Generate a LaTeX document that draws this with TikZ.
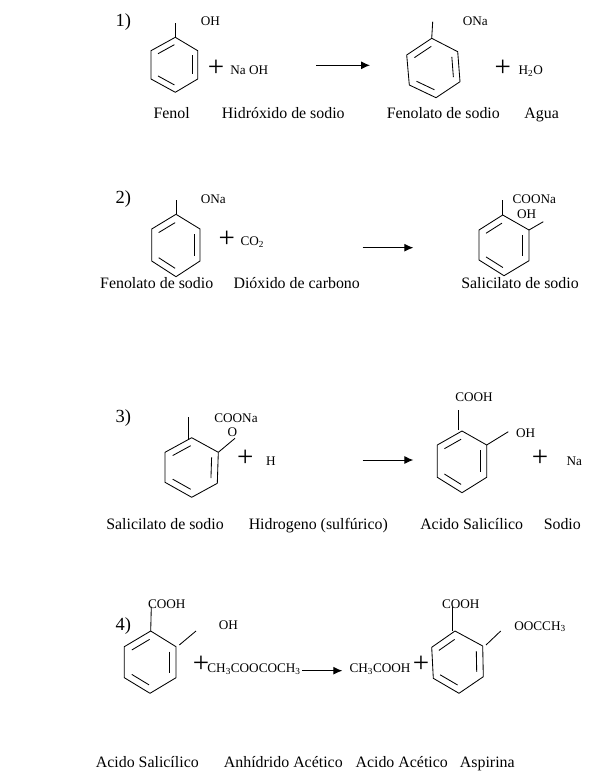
\documentclass[tikz,border=0pt]{standalone}
\usepackage{fontspec}
\setmainfont{Liberation Serif}
\usetikzlibrary{calc,arrows.meta}

\tikzset{
    bond/.style={line width=0.85pt,black},
    reaction/.style={line width=0.9pt,-{Latex[length=9pt,width=8pt]}},
    formula/.style={inner sep=0pt,anchor=base,font=\fontsize{13.2}{15}\selectfont},
    caption/.style={inner sep=0pt,anchor=base,font=\fontsize{15.9}{18}\selectfont},
    stepnum/.style={inner sep=0pt,anchor=base,font=\fontsize{18.5}{20}\selectfont},
    plussign/.style={inner sep=0pt,font=\fontsize{29}{31}\selectfont}
}

% ring from its six corners, clockwise from the top
\newcommand{\ring}[7]{
    \coordinate (#1-1) at (#2);
    \coordinate (#1-2) at (#3);
    \coordinate (#1-3) at (#4);
    \coordinate (#1-4) at (#5);
    \coordinate (#1-5) at (#6);
    \coordinate (#1-6) at (#7);
    \coordinate (#1-c) at ($(#1-1)!.5!(#1-4)$);
    \draw [bond,line join=round] (#1-1)--(#1-2)--(#1-3)--(#1-4)--(#1-5)--(#1-6)--cycle;
    \draw [bond] ($($(#1-2)!.05!(#1-3)$)!.25!(#1-c)$)--($($(#1-2)!.95!(#1-3)$)!.25!(#1-c)$);
    \draw [bond] ($($(#1-4)!.05!(#1-5)$)!.25!(#1-c)$)--($($(#1-4)!.95!(#1-5)$)!.25!(#1-c)$);
    \draw [bond] ($($(#1-6)!.05!(#1-1)$)!.25!(#1-c)$)--($($(#1-6)!.95!(#1-1)$)!.25!(#1-c)$);
}

\begin{document}
\begin{tikzpicture}[x=1pt,y=-1pt]
    \useasboundingbox (0,0) rectangle (605,775);

    % reaction 1
    \node [stepnum] (num1) at (123.3,26.7) {1)};
    \ring{fenol}{175.3,37.3}{197.7,50.7}{197.7,79}{175.3,92.3}{151,79}{151,50.7}
    \coordinate (fenolOH) at (175.3,22.7);
    \draw [bond] (fenol-1)--(fenolOH);
    \node [formula] (oh1) at (210.3,26) {OH};
    \node [plussign] (plus1a) at (216,68.4) {+};
    \node [formula] (naoh) at (249.3,75) {Na OH};
    \coordinate (ar1a) at (316.3,65.3);
    \coordinate (ar1b) at (370,65.3);
    \draw [reaction] (ar1a)--(ar1b);
    \ring{fenolato}{431.7,38.3}{457.7,51.7}{460,81.7}{436,97.7}{409.3,85}{406.7,55}
    \coordinate (fenolatoONa) at (432.7,21.7);
    \draw [bond] (fenolato-1)--(fenolatoONa);
    \node [formula] (ona1) at (475.3,26) {ONa};
    \node [plussign] (plus1b) at (502.7,68.4) {+};
    \node [formula] (agua) at (530.7,75) {H\textsubscript{2}O};
    \node [caption] (n1a) at (171.7,118.5) {Fenol};
    \node [caption] (n1b) at (283.3,118.5) {Hidróxido de sodio};
    \node [caption] (n1c) at (443.3,118.5) {Fenolato de sodio};
    \node [caption] (n1d) at (541.7,118.5) {Agua};

    % reaction 2
    \node [stepnum] (num2) at (123.3,203.3) {2)};
    \ring{fenolatob}{176,214.3}{200,229}{200,261}{176,276.7}{151.7,261}{151.7,229}
    \coordinate (fenolatobONa) at (176,200);
    \draw [bond] (fenolatob-1)--(fenolatobONa);
    \node [formula] (ona2) at (213.3,203.3) {ONa};
    \node [plussign] (plus2) at (226.7,239) {+};
    \node [formula] (co2) at (252.3,245.3) {CO\textsubscript{2}};
    \coordinate (ar2a) at (362.7,247.7);
    \coordinate (ar2b) at (413.3,247.7);
    \draw [reaction] (ar2a)--(ar2b);
    \ring{salicilato}{502.7,215}{529,230}{529,260.7}{504,275.7}{479,260}{479,230}
    \coordinate (salicilatoC) at (502.7,200);
    \coordinate (salicilatoO) at (543.3,221.7);
    \draw [bond] (salicilato-1)--(salicilatoC);
    \draw [bond] (salicilato-2)--(salicilatoO);
    \node [formula] (coona2) at (534.3,203.3) {COONa};
    \node [formula] (oh2) at (526.7,218.3) {OH};
    \node [caption] (n2a) at (156.7,288.5) {Fenolato de sodio};
    \node [caption] (n2b) at (296.7,288.5) {Dióxido de carbono};
    \node [caption] (n2c) at (520,288.5) {Salicilato de sodio};

    % reaction 3
    \node [stepnum] (num3) at (123.3,422.3) {3)};
    \ring{salicilatob}{191.7,437.7}{218.3,452.3}{217.3,483.3}{191.7,497.3}{165,482.3}{165,452.3}
    \coordinate (salicilatobA) at (188.3,439);
    \coordinate (salicilatobC) at (188.3,417.3);
    \coordinate (salicilatobO) at (235,438.3);
    \draw [bond] (salicilatobA)--(salicilatobC);
    \draw [bond] (salicilatob-2)--(salicilatobO);
    \node [formula] (coona3) at (236,422.3) {COONa};
    \node [formula] (o3) at (232.3,436.7) {O};
    \node [plussign] (plus3a) at (245.3,458.4) {+};
    \node [formula] (h3) at (271,465) {H};
    \coordinate (ar3a) at (362.7,460);
    \coordinate (ar3b) at (413.3,460);
    \draw [reaction] (ar3a)--(ar3b);
    \ring{acido}{462,431}{486.7,445}{486.7,477.3}{462,492.7}{437.3,477.3}{437.3,445}
    \coordinate (acidoA) at (458.3,430);
    \coordinate (acidoC) at (458.3,410);
    \coordinate (acidoO) at (508.3,431.7);
    \draw [bond] (acidoA)--(acidoC);
    \draw [bond] (acido-2)--(acidoO);
    \node [formula] (cooh3) at (474,401.7) {COOH};
    \node [formula] (oh3) at (525.7,437.3) {OH};
    \node [plussign] (plus3b) at (540,458.4) {+};
    \node [formula] (na3) at (574.3,465) {Na};
    \node [caption] (n3a) at (165,529.5) {Salicilato de sodio};
    \node [caption] (n3b) at (318.3,529.5) {Hidrogeno (sulfúrico)};
    \node [caption] (n3c) at (471.7,529.5) {Acido Salicílico};
    \node [caption] (n3d) at (562.3,529.5) {Sodio};

    % reaction 4
    \node [stepnum] (num4) at (123.3,630) {4)};
    \ring{acidob}{150.7,631}{176,646.7}{176,677.7}{150,693.3}{124.3,677.7}{124.3,646.7}
    \coordinate (acidobC) at (151.3,606.7);
    \coordinate (acidobA) at (179.3,645);
    \coordinate (acidobO) at (196,631);
    \draw [bond] (acidob-1)--(acidobC);
    \draw [bond] (acidobA)--(acidobO);
    \node [formula] (cooh4a) at (166.7,608.3) {COOH};
    \node [formula] (oh4) at (228.3,629.3) {OH};
    \node [plussign] (plus4a) at (201,664.4) {+};
    \node [formula] (anhidrido) at (254,672.7) {CH\textsubscript{3}COOCOCH\textsubscript{3}};
    \coordinate (ar4a) at (302.3,670.7);
    \coordinate (ar4b) at (342.3,670.7);
    \draw [reaction] (ar4a)--(ar4b);
    \node [formula] (acetico) at (380,672.3) {CH\textsubscript{3}COOH};
    \node [plussign] (plus4b) at (421,664.4) {+};
    \ring{aspirina}{455,631}{482.7,646}{483.3,676.7}{459,693.3}{433.3,678.3}{431.7,647.3}
    \coordinate (aspirinaA) at (452.7,630.7);
    \coordinate (aspirinaC) at (452.7,606.7);
    \coordinate (aspirinaB) at (486,645);
    \coordinate (aspirinaO) at (500.7,631);
    \draw [bond] (aspirinaA)--(aspirinaC);
    \draw [bond] (aspirinaB)--(aspirinaO);
    \node [formula] (cooh4b) at (460.7,608.3) {COOH};
    \node [formula] (oocch) at (540,630) {OOCCH\textsubscript{3}};
    \node [caption] (n4a) at (147.3,767.5) {Acido Salicílico};
    \node [caption] (n4b) at (283.3,767.5) {Anhídrido Acético};
    \node [caption] (n4c) at (401.7,767.5) {Acido Acético};
    \node [caption] (n4d) at (487.3,767.5) {Aspirina};
\end{tikzpicture}
\end{document}
